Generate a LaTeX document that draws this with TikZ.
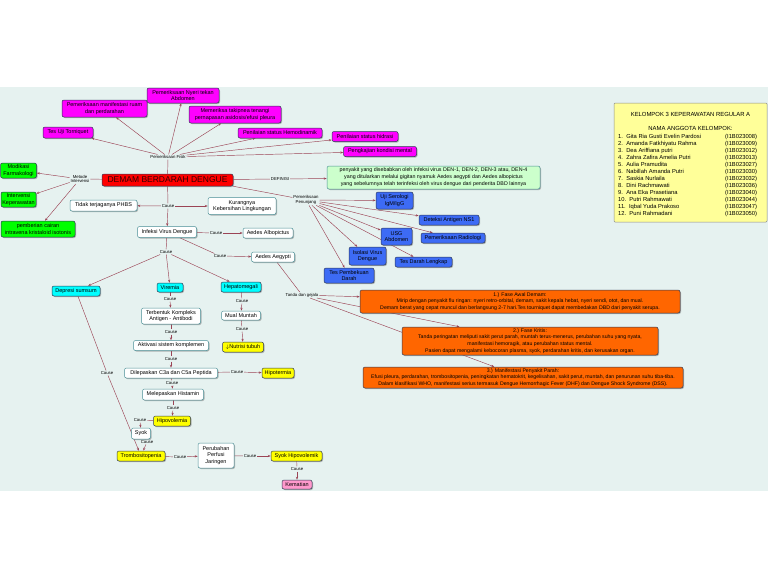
\documentclass[tikz,border=0pt]{standalone}
\usepackage{fontspec}
\setmainfont{Liberation Sans}
\usetikzlibrary{shadows,arrows.meta}
\definecolor{panelbg}{HTML}{E6F2F0}
\definecolor{cmag}{HTML}{FF00FF}
\definecolor{cgrn}{HTML}{00FF00}
\definecolor{cred}{HTML}{FF0000}
\definecolor{ccyn}{HTML}{00FFFF}
\definecolor{cylw}{HTML}{FFFF00}
\definecolor{cblu}{HTML}{3D6BF5}
\definecolor{corg}{HTML}{FF6600}
\definecolor{cpnk}{HTML}{FF99CC}
\definecolor{cdesc}{HTML}{CCFFCC}
\definecolor{cpanel}{HTML}{FFFF99}
\definecolor{lincol}{HTML}{9B4455}
\definecolor{teal}{HTML}{4A8F96}
\definecolor{bord}{HTML}{2E3A55}
\newcommand\myfs[2]{\fontsize{#1}{#2}\selectfont}
\pgfdeclarelayer{panel}
\pgfdeclarelayer{edges}
\pgfsetlayers{panel,edges,main}
\tikzset{
  concept/.style={rounded corners=2pt, draw=bord, line width=0.5pt, inner sep=0.5pt,
    align=center, font=\myfs{5.5}{6.6},
    drop shadow={shadow xshift=1pt, shadow yshift=-1pt, fill=black!55}},
  mag/.style={concept, fill=cmag},
  grn/.style={concept, fill=cgrn},
  cyn/.style={concept, fill=ccyn},
  ylw/.style={concept, fill=cylw},
  blu/.style={concept, fill=cblu},
  org/.style={concept, fill=corg, font=\myfs{5.2}{6.8}},
  pnk/.style={concept, fill=cpnk},
  wht/.style={concept, fill=white, draw=teal},
  lbl/.style={font=\myfs{4.3}{4.8}, inner sep=0.8pt, align=center},
  conn/.style={draw=lincol, line width=0.45pt},
  arr/.style={conn, -{Stealth[length=3pt,width=2.2pt]}},
  sz/.style n args={2}{minimum width=#1pt, minimum height=#2pt},
}
\begin{document}
\begin{tikzpicture}[x=1pt,y=-1pt]
\useasboundingbox (0,0) rectangle (768,578);
\begin{pgfonlayer}{panel}
\fill[panelbg] (0,87) rectangle (768,491);
\end{pgfonlayer}

% ---- Pemeriksaan fisik
\node[mag, sz={72}{15}] (nyeri) at (183,95.5) {Pemeriksaan Nyeri tekan\\Abdomen};
\node[mag, sz={85}{17}] (ruam) at (104.5,108.5) {Pemeriksaan manifestasi ruam\\dan perdarahan};
\node[mag, sz={92}{17}] (takip) at (235,114.5) {Memeriksa takipnea tenangi\\pernapasan asidosis/efusi pleura};
\node[mag, sz={50}{11}] (torn) at (68,132.5) {Tes Uji Torniquet};
\node[mag, sz={84}{10}] (hemo) at (280,133) {Penilaian status Hemodinamik};
\node[mag, sz={66}{10}] (hidr) at (365,136.5) {Penilaian status hidrasi};
\node[mag, sz={73}{10}] (ment) at (380,151.5) {Pengkajian kondisi mental};
\node[lbl] (fisik) at (168,157) {Pemeriksaan Fisik};

% ---- central
\node[concept, fill=cred, sz={131}{12}, font=\myfs{8.5}{9}, text=black!80!red] (dbd) at (167.5,180) {DEMAM BERDARAH DENGUE};

% ---- intervensi
\node[lbl] (metode) at (80,179) {Metode\\Intervensi};
\node[grn, sz={36}{15}] (farm) at (18.5,170.5) {Modikasi\\Farmakologi};
\node[grn, sz={35}{15}] (kep) at (18.5,199.5) {Intervensi\\Keperawatan};
\node[grn, sz={74}{16}] (cair) at (38,229) {pemberian cairan\\intravena kristaloid isotonis};

% ---- causes
\node[lbl] (c1) at (168,206) {Cause};
\node[wht, sz={67}{11}] (phbs) at (103.5,205.5) {Tidak terjaganya PHBS};
\node[wht, sz={68}{17}] (kurang) at (242,206) {Kurangnya\\Kebersihan Lingkungan};
\node[wht, sz={59}{11}] (infeksi) at (167,232) {Infeksi Virus Dengue};
\node[lbl] (c2) at (216,233) {Cause};
\node[wht, sz={50}{10}] (albo) at (268,233) {Aedes Albopictus};
\node[lbl] (c3) at (220,256) {Cause};
\node[wht, sz={43}{10}] (aeg) at (273,257) {Aedes Aegypti};
\node[lbl] (c4) at (166,252) {Cause};
\node[cyn, sz={48}{10}] (depresi) at (76,291) {Depresi sumsum};
\node[cyn, sz={26}{9}] (viremia) at (170,287.5) {Viremia};
\node[cyn, sz={40}{10}] (hepato) at (241,287) {Hepatomegali};
\node[lbl] (c5) at (170,299) {Cause};
\node[wht, sz={59}{16}] (terbentuk) at (171,316) {Terbentuk Kompleks\\Antigen - Antibodi};
\node[lbl] (c6) at (242,301) {Cause};
\node[wht, sz={39}{9}] (mual) at (241,315.5) {Mual Muntah};
\node[lbl] (c7) at (171,332) {Cause};
\node[wht, sz={75}{10}] (aktiv) at (171,345.5) {Aktivasi sistem komplemen};
\node[lbl] (c8) at (242,329) {Cause};
\node[ylw, sz={41}{10}] (nutri) at (243,347) {$\downarrow$Nutrisi tubuh};
\node[lbl] (c9) at (171,359) {Cause};
\node[wht, sz={93}{10}] (dilepas) at (171,373) {Dilepaskan C3a dan C5a Peptida};
\node[lbl] (c10) at (237,372) {Cause};
\node[ylw, sz={32}{10}] (hipot) at (278,373) {Hipotermia};
\node[lbl] (c11) at (172,383) {Cause};
\node[wht, sz={61}{11}] (hista) at (173,394.5) {Melepaskan Histamin};
\node[lbl] (c12) at (173,408) {Cause};
\node[ylw, sz={37}{10}] (hipov) at (172,421) {Hipovolemia};
\node[lbl] (c13) at (140,420) {Cause};
\node[wht, sz={19}{11}] (syok) at (141,433.5) {Syok};
\node[lbl] (c14) at (147,442) {Cause};
\node[lbl] (c15) at (107,373) {Cause};
\node[ylw, sz={48}{10}] (trombo) at (141,456) {Trombositopenia};
\node[lbl] (c16) at (180,457) {Cause};
\node[wht, sz={36}{25}] (perfusi) at (216,455.5) {Perubahan\\Perfusi\\Jaringen};
\node[lbl] (c17) at (250,456) {Cause};
\node[ylw, sz={51}{10}] (syokh) at (296.5,456) {Syok Hipovolemik};
\node[lbl] (c18) at (297,469) {Cause};
\node[pnk, sz={30}{9}] (kematian) at (297,484.5) {Kematian};

% ---- definisi
\node[lbl] (definisi) at (280,179) {DEFINISI};
\node[concept, fill=cdesc, draw=teal, sz={213}{23}, font=\myfs{5.3}{6.9}] (desc) at (433.5,177.5)
 {penyakit yang disebabkan oleh infeksi virus DEN-1, DEN-2, DEN-3 atau, DEN-4\\
  yang ditularkan melalui gigitan nyamuk Aedes aegypti dan Aedes albopictus\\
  yang sebelumnya telah terinfeksi oleh virus dengue dari penderita DBD lainnya};

% ---- penunjang
\node[lbl] (penunjang) at (306,200) {Pemeriksaan\\Penunjang};
\node[blu, sz={37}{17}] (sero) at (394.5,200.5) {Uji Serologi\\IgM/IgG};
\node[blu, sz={60}{10}] (ns1) at (449,220) {Deteksi Antigen NS1};
\node[blu, sz={31}{17}] (usg) at (396.5,236.5) {USG\\Abdomen};
\node[blu, sz={64}{10}] (radio) at (453,238) {Pemeriksaan Radiologi};
\node[blu, sz={37}{18}] (isolasi) at (367.5,256) {Isolasi Virus\\Dengue};
\node[blu, sz={57}{10}] (tdl) at (423.5,262) {Tes Darah Lengkap};
\node[blu, sz={50}{15}] (pemb) at (349,275.5) {Tes Pembekuan\\Darah};

% ---- tanda dan gejala
\node[lbl] (tanda) at (302,295) {Tanda dan gejala};
\node[org, sz={320}{23}] (fase1) at (520,301.5)
 {1.) Fase Awal Demam:\\
  Mirip dengan penyakit flu ringan: nyeri retro-orbital, demam, sakit kepala hebat, nyeri sendi, otot, dan mual.\\
  Demam berat yang cepat muncul dan berlangsung 2-7 hari.Tes tourniquet dapat membedakan DBD dari penyakit serupa.};
\node[org, sz={256}{28}] (fase2) at (530,341)
 {2.) Fase Kritis:\\
  Tanda peringatan meliputi sakit perut parah, muntah terus-menerus, perubahan suhu yang nyata,\\
  manifestasi hemoragik, atau perubahan status mental.\\
  Pasien dapat mengalami kebocoran plasma, syok, perdarahan kritis, dan kerusakan organ.};
\node[org, sz={320}{21}] (fase3) at (523,377.5)
 {3.) Manifestasi Penyakit Parah:\\
  Efusi pleura, perdarahan, trombositopenia, peningkatan hematokrit, kegelisahan, sakit perut, muntah, dan penurunan suhu tiba-tiba.\\
  Dalam klasifikasi WHO, manifestasi serius termasuk Dengue Hemorrhagic Fever (DHF) dan Dengue Shock Syndrome (DSS).};

% ---- kelompok panel
\node[draw=black!45, fill=cpanel, rounded corners=1pt, line width=0.5pt, sz={153}{119}] (kel) at (690.5,162.5) {};
\node[font=\myfs{5.9}{7}, inner sep=0pt] (kt1) at (690.5,114) {KELOMPOK 3 KEPERAWATAN REGULAR A};
\node[font=\myfs{5.9}{7}, inner sep=0pt] (kt2) at (690.5,128) {NAMA ANGGOTA KELOMPOK:};
\foreach \i/\nm/\nim in {1/{1.\ \ Gita Ria Gusti Evelin Pardosi}/I1B023008,
  2/{2.\ \ Amanda Fatkhiyatu Rahma}/I1B023009,
  3/{3.\ \ Dea Ariffiana putri}/I1B023012,
  4/{4.\ \ Zahra Zafira Amelia Putri}/I1B023013,
  5/{5.\ \ Aulia Pramudita}/I1B023027,
  6/{6.\ \ Nabillah Amanda Putri}/I1B023030,
  7/{7.\ \ Saskia Nurlaila}/I1B023032,
  8/{8.\ \ Dini Rachmawati}/I1B023036,
  9/{9.\ \ Ana Eka Prasetiana}/I1B023040,
  10/{10.\ \ Putri Rahmawati}/I1B023044,
  11/{11.\ \ Iqbal Yuda Prakoso}/I1B023047,
  12/{12.\ \ Puni Rahmadani}/I1B023050}{
  \node[font=\myfs{5.8}{7}, inner sep=0pt, anchor=west] (kn\i) at (618,{136.5+7.0*(\i-1)}) {\nm};
  \node[font=\myfs{5.8}{7}, inner sep=0pt, anchor=west] (ki\i) at (725,{136.5+7.0*(\i-1)}) {(\nim)};
}

% ---- connectors
\begin{pgfonlayer}{edges}
\draw[conn] (dbd) -- (fisik);
\foreach \t in {nyeri,ruam,takip,torn,hemo,hidr,ment} \draw[arr] (fisik) -- (\t);
\draw[conn] (dbd) -- (metode);
\foreach \t in {farm,kep,cair} \draw[arr] (metode) -- (\t);
\draw[conn] (dbd) -- (c1);
\foreach \t in {phbs,kurang,infeksi} \draw[arr] (c1) -- (\t);
\draw[conn] (dbd) -- (definisi);
\draw[arr] (definisi) -- (desc);
\draw[conn] (dbd.south east) -- (penunjang);
\foreach \t in {sero,ns1,usg,radio,isolasi,tdl,pemb} \draw[arr] (penunjang) -- (\t);
\draw[conn] (infeksi) -- (c2); \draw[arr] (c2) -- (albo);
\draw[conn] (infeksi) -- (c3); \draw[arr] (c3) -- (aeg);
\draw[conn] (infeksi) -- (c4);
\foreach \t in {depresi,viremia,hepato} \draw[arr] (c4) -- (\t);
\draw[conn] (aeg) -- (tanda);
\foreach \t in {fase1,fase2,fase3} \draw[arr] (tanda) -- (\t);
\draw[conn] (viremia) -- (c5); \draw[arr] (c5) -- (terbentuk);
\draw[conn] (terbentuk) -- (c7); \draw[arr] (c7) -- (aktiv);
\draw[conn] (aktiv) -- (c9); \draw[arr] (c9) -- (dilepas);
\draw[conn] (dilepas) -- (c10); \draw[arr] (c10) -- (hipot);
\draw[conn] (dilepas) -- (c11); \draw[arr] (c11) -- (hista);
\draw[conn] (hista) -- (c12); \draw[arr] (c12) -- (hipov);
\draw[conn] (hipov) -- (c13); \draw[arr] (c13) -- (syok);
\draw[conn] (syok) -- (c14); \draw[arr] (c14) -- (trombo);
\draw[conn] (hepato) -- (c6); \draw[arr] (c6) -- (mual);
\draw[conn] (mual) -- (c8); \draw[arr] (c8) -- (nutri);
\draw[conn] (depresi) -- (c15); \draw[arr] (c15) -- (trombo);
\draw[conn] (trombo) -- (c16); \draw[arr] (c16) -- (perfusi);
\draw[conn] (perfusi) -- (c17); \draw[arr] (c17) -- (syokh);
\draw[conn] (syokh) -- (c18); \draw[arr] (c18) -- (kematian);
\end{pgfonlayer}
\end{tikzpicture}
\end{document}
